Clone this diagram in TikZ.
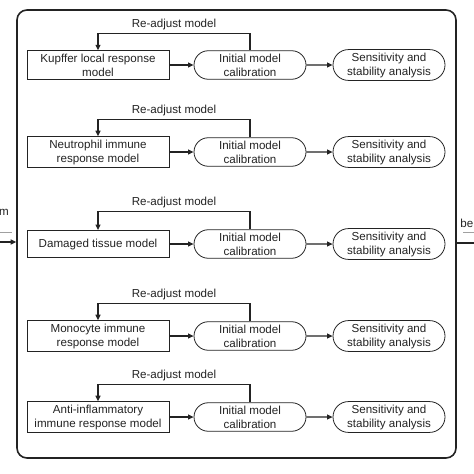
\documentclass[tikz,border=0pt]{standalone}
\usepackage{fontspec}
\setmainfont{Liberation Sans}
\usetikzlibrary{arrows.meta,shapes.misc}
\definecolor{myink}{RGB}{35,35,35}
\definecolor{mygray}{RGB}{160,160,160}

\begin{document}
\begin{tikzpicture}[x=1pt, y=-1pt,
    font=\fontsize{11.6}{14}\selectfont, text=myink,
    modelbox/.style={draw=myink, line width=0.8pt, minimum width=142pt, minimum height=27pt, align=center, inner xsep=2pt, inner ysep=3pt},
    stagebox/.style={draw=myink, rounded rectangle, line width=0.8pt, minimum width=116pt, minimum height=28pt, align=center, inner xsep=2pt, inner ysep=3pt},
    flow/.style={draw=myink, line width=1.2pt, -{Triangle[length=5.5pt, width=5pt]}},
    back/.style={flow, rounded corners=0pt}]
    \useasboundingbox (0,0) rectangle (474,474);

    % Outer frame and the lines going in and out of it.
    \node[draw=myink, rounded corners=10pt, line width=1.6pt, minimum width=439pt, minimum height=448pt] (frame) at (236.5,234) {};
    \coordinate (in) at (0,242);
    \coordinate (out) at (474,243);
    \node[anchor=east, inner sep=0pt] (intext) at (9,212) {m};
    \node[anchor=east, inner sep=0pt] (outtext) at (473.5,223) {be};
    \draw[mygray, line width=1pt] (0,232) -- (12,232);
    \draw[mygray, line width=1pt] (463,232) -- (474,232);
    \draw[flow] (in) -- (in -| frame.west);
    \draw[myink, line width=1.2pt] (frame.east |- out) -- (out);

    % Kupffer cells.
    \node[modelbox] (kup) at (98,65) {Kupffer local response\\model};
    \node[stagebox] (cal1) at (250,65) {Initial model\\calibration};
    \node[stagebox] (sens1) at (389,65) {Sensitivity and\\stability analysis};
    \draw[flow] (kup) -- (cal1);
    \draw[flow] (cal1) -- (sens1);
    \draw[back] (cal1.north) -- ++(0,-17) -| (kup.north) node[pos=0.25, above] {Re-adjust model};

    % Neutrophils.
    \node[modelbox] (neu) at (98,152) {Neutrophil immune\\response model};
    \node[stagebox] (cal2) at (250,152) {Initial model\\calibration};
    \node[stagebox] (sens2) at (389,152) {Sensitivity and\\stability analysis};
    \draw[flow] (neu) -- (cal2);
    \draw[flow] (cal2) -- (sens2);
    \draw[back] (cal2.north) -- ++(0,-18) -| (neu.north) node[pos=0.25, above] {Re-adjust model};

    % Damaged tissue.
    \node[modelbox] (dam) at (98,244) {Damaged tissue model};
    \node[stagebox] (cal3) at (250,244) {Initial model\\calibration};
    \node[stagebox] (sens3) at (389,244) {Sensitivity and\\stability analysis};
    \draw[flow] (dam) -- (cal3);
    \draw[flow] (cal3) -- (sens3);
    \draw[back] (cal3.north) -- ++(0,-18) -| (dam.north) node[pos=0.25, above] {Re-adjust model};

    % Monocytes.
    \node[modelbox] (mon) at (98,336) {Monocyte immune\\response model};
    \node[stagebox] (cal4) at (250,336) {Initial model\\calibration};
    \node[stagebox] (sens4) at (389,336) {Sensitivity and\\stability analysis};
    \draw[flow] (mon) -- (cal4);
    \draw[flow] (cal4) -- (sens4);
    \draw[back] (cal4.north) -- ++(0,-18) -| (mon.north) node[pos=0.25, above] {Re-adjust model};

    % Anti-inflammatory response.
    \node[modelbox] (anti) at (98,417) {Anti-inflammatory\\immune response model};
    \node[stagebox] (cal5) at (250,417) {Initial model\\calibration};
    \node[stagebox] (sens5) at (389,417) {Sensitivity and\\stability analysis};
    \draw[flow] (anti) -- (cal5);
    \draw[flow] (cal5) -- (sens5);
    \draw[back] (cal5.north) -- ++(0,-18) -| (anti.north) node[pos=0.25, above] {Re-adjust model};
\end{tikzpicture}
\end{document}
